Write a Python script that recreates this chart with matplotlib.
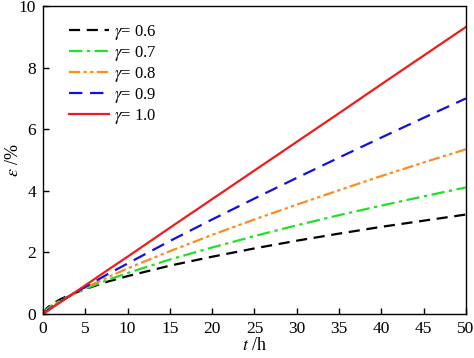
import numpy as np
import matplotlib
matplotlib.use("Agg")
import matplotlib.pyplot as plt

# values
t = [0, 0.5, 1, 2, 3, 5, 7.5, 10, 15, 20, 25, 30, 35, 40, 45, 50]
eps_06 = [0, 0.20, 0.31, 0.47, 0.60, 0.81, 1.04, 1.23, 1.57, 1.86, 2.13, 2.38, 2.61, 2.83, 3.03, 3.23]
eps_07 = [0, 0.16, 0.27, 0.43, 0.57, 0.82, 1.09, 1.33, 1.77, 2.16, 2.53, 2.88, 3.21, 3.52, 3.82, 4.11]
eps_08 = [0, 0.13, 0.23, 0.41, 0.56, 0.85, 1.17, 1.48, 2.04, 2.57, 3.07, 3.55, 4.02, 4.48, 4.92, 5.35]
eps_09 = [0, 0.11, 0.21, 0.39, 0.56, 0.88, 1.27, 1.64, 2.37, 3.07, 3.75, 4.42, 5.08, 5.73, 6.37, 7.00]
eps_10 = [0, 0.09, 0.19, 0.37, 0.56, 0.93, 1.40, 1.86, 2.80, 3.73, 4.66, 5.59, 6.52, 7.46, 8.39, 9.32]
labels = [r"$\gamma$= 0.6", r"$\gamma$= 0.7", r"$\gamma$= 0.8", r"$\gamma$= 0.9", r"$\gamma$= 1.0"]

plt.rcParams.update({
    "font.family": "Liberation Serif",
    "mathtext.fontset": "stix",
    "font.size": 12,
    "xtick.direction": "in",
    "ytick.direction": "in",
    "axes.linewidth": 1.0,
})

fig = plt.figure(figsize=(4.74, 3.58), dpi=100)
ax = fig.add_axes([0.0907, 0.1229, 0.8923, 0.8603])

styles = [
    dict(color="#000000", dashes=(5, 3)),
    dict(color="#22e022", dashes=(6, 2, 1.5, 2)),
    dict(color="#ff8a1e", dashes=(5, 1.5, 1.5, 1.5, 1.5, 1.5)),
    dict(color="#1010e0", dashes=(6, 3.5)),
    dict(color="#ee1c1c", linestyle="-"),
]
for y, lab, st in zip([eps_06, eps_07, eps_08, eps_09, eps_10], labels, styles):
    ax.plot(t, y, lw=1.6, label=lab, **st)

ax.set_xlim(0, 50)
ax.set_ylim(0, 10)
ax.set_xticks(np.arange(0, 51, 5))
ax.set_yticks(np.arange(0, 11, 2))
ax.tick_params(length=4, width=1.0, labelsize=12.5, pad=5)

ax.set_xlabel(r"$t$ /h", fontsize=13, labelpad=0)
ax.set_ylabel(r"$\varepsilon$ /%", fontsize=13)
ax.yaxis.set_label_coords(-0.05, 0.5)

ax.legend(loc="upper left", frameon=False, fontsize=12, handlelength=2.4,
          handletextpad=0.3, labelspacing=0.12, borderaxespad=0.0,
          bbox_to_anchor=(0.045, 0.968))

fig.savefig("out.png", dpi=100)
